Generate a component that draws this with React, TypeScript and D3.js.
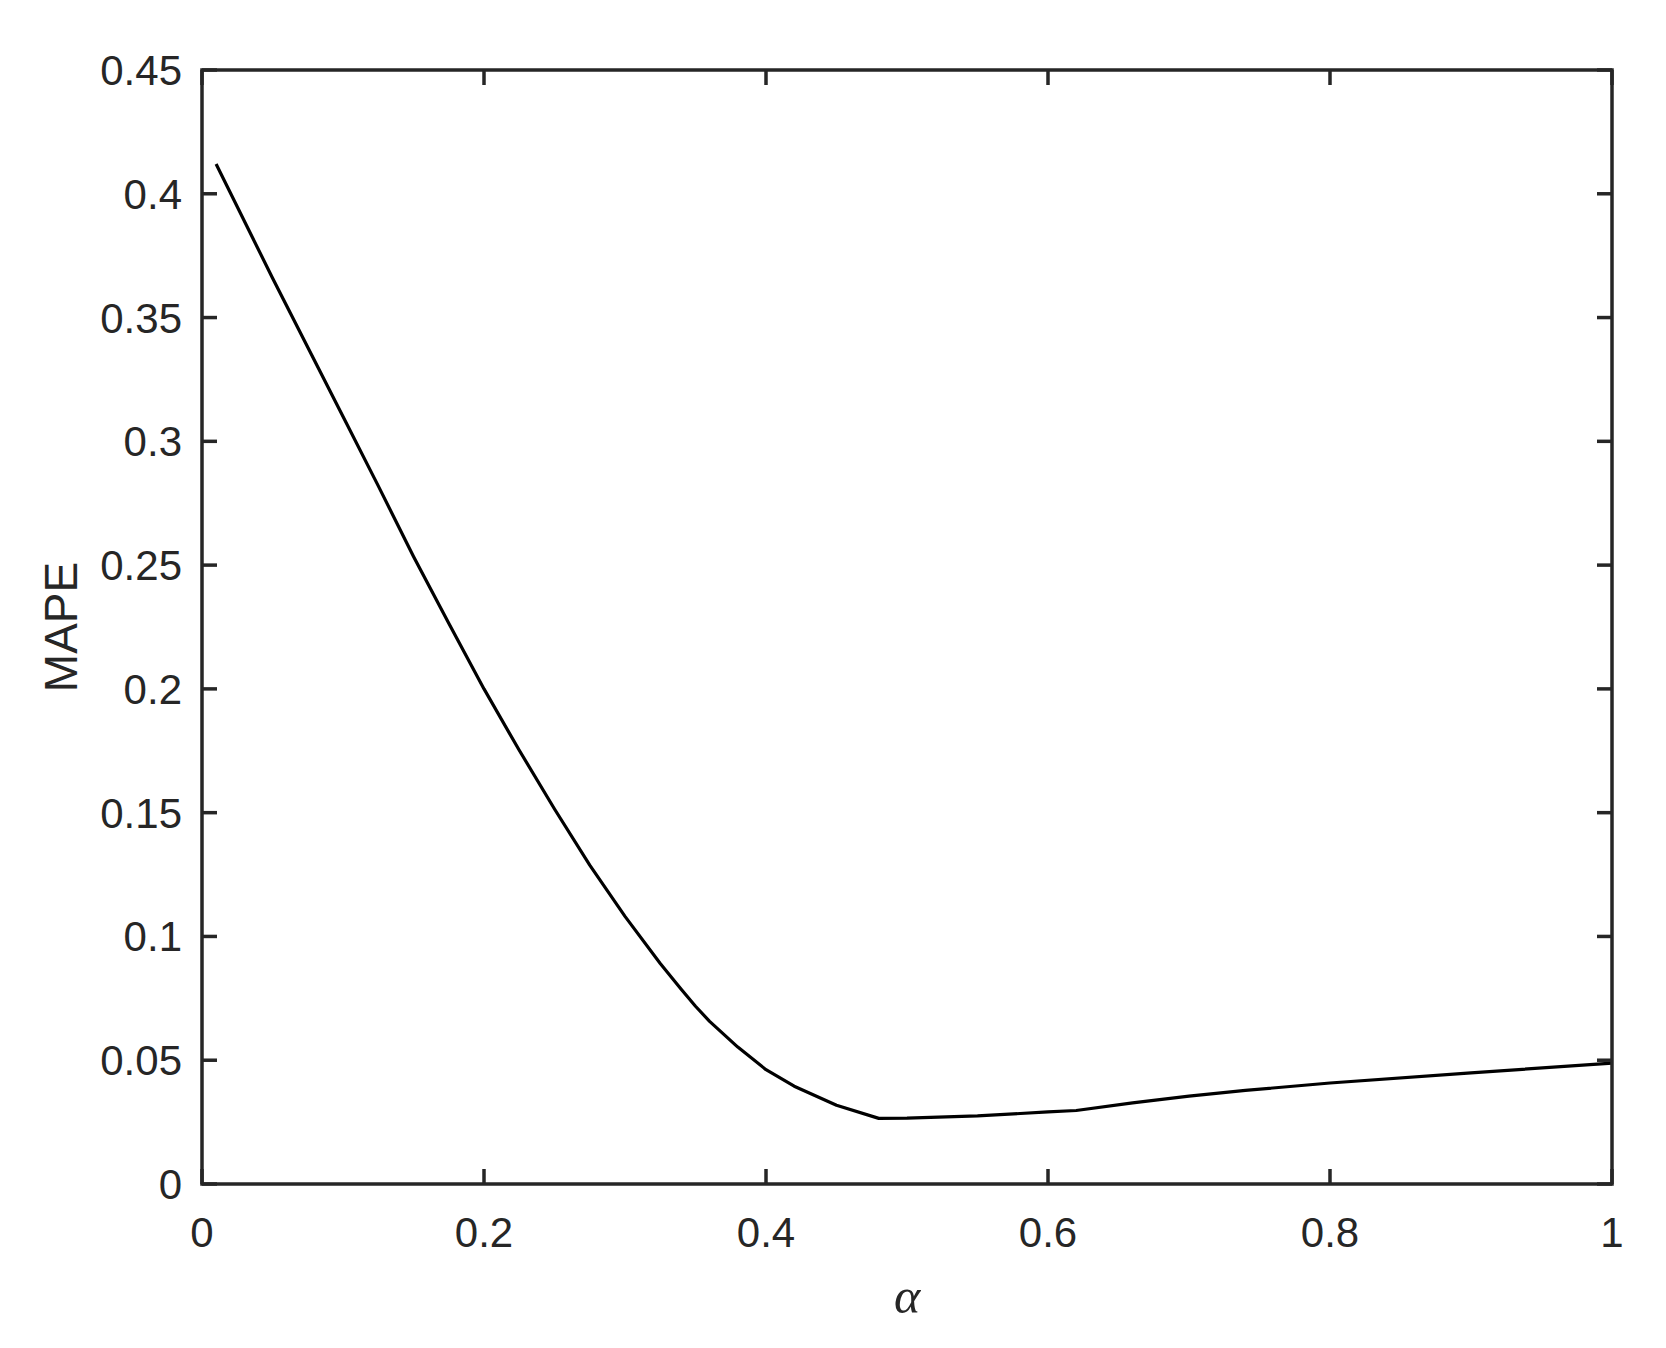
import React from "react";
import { scaleLinear, line } from "d3";

// alpha values and MAPE
const alphaValues = [0.01, 0.05, 0.1, 0.125, 0.15, 0.175, 0.2, 0.225, 0.25, 0.275, 0.3, 0.325, 0.34, 0.35, 0.36, 0.38, 0.4, 0.42, 0.45, 0.48, 0.5, 0.55, 0.6, 0.62, 0.66, 0.7, 0.74, 0.8, 0.9, 1.0];
const mapeValues = [0.412, 0.366, 0.31, 0.282, 0.2535, 0.2265, 0.2, 0.1752, 0.1515, 0.1288, 0.1081, 0.0891, 0.0786, 0.0718, 0.0657, 0.0553, 0.0462, 0.0395, 0.0318, 0.0265, 0.0266, 0.0275, 0.0291, 0.0297, 0.0328, 0.0355, 0.0378, 0.0408, 0.0449, 0.0488];
const xTickValues = [0, 0.2, 0.4, 0.6, 0.8, 1];
const xTickLabels = ["0", "0.2", "0.4", "0.6", "0.8", "1"];
const yTickValues = [0, 0.05, 0.1, 0.15, 0.2, 0.25, 0.3, 0.35, 0.4, 0.45];
const yTickLabels = ["0", "0.05", "0.1", "0.15", "0.2", "0.25", "0.3", "0.35", "0.4", "0.45"];

const left = 202;
const right = 1612;
const top = 70;
const bottom = 1184;
const axisColor = "#262626";
const tickLen = 15;
const font = "Arial, 'Liberation Sans', Helvetica, sans-serif";

export default function App() {
  const x = scaleLinear().domain([0, 1]).range([left, right]);
  const y = scaleLinear().domain([0, 0.45]).range([bottom, top]);
  const pts: [number, number][] = alphaValues.map((a, i) => [x(a), y(mapeValues[i])]);
  const path = line()(pts) || "";

  return (
    <svg
      width={1666}
      height={1348}
      style={{ position: "absolute", left: 0, top: 0, background: "white" }}
    >
      <rect x={0} y={0} width={1666} height={1348} fill="white" />
      <path d={path} fill="none" stroke="#000" strokeWidth={3.2} strokeLinejoin="round" />

      {/* box */}
      <rect
        x={left}
        y={top}
        width={right - left}
        height={bottom - top}
        fill="none"
        stroke={axisColor}
        strokeWidth={3.5}
      />

      {xTickValues.map((v, i) => (
        <g key={"x" + i}>
          <line x1={x(v)} x2={x(v)} y1={bottom} y2={bottom - tickLen} stroke={axisColor} strokeWidth={3.5} />
          <line x1={x(v)} x2={x(v)} y1={top} y2={top + tickLen} stroke={axisColor} strokeWidth={3.5} />
          <text
            x={x(v)}
            y={1247}
            textAnchor="middle"
            fontFamily={font}
            fontSize={42}
            fill={axisColor}
          >
            {xTickLabels[i]}
          </text>
        </g>
      ))}

      {yTickValues.map((v, i) => (
        <g key={"y" + i}>
          <line x1={left} x2={left + tickLen} y1={y(v)} y2={y(v)} stroke={axisColor} strokeWidth={3.5} />
          <line x1={right} x2={right - tickLen} y1={y(v)} y2={y(v)} stroke={axisColor} strokeWidth={3.5} />
          <text
            x={182}
            y={y(v) + 15}
            textAnchor="end"
            fontFamily={font}
            fontSize={42}
            fill={axisColor}
          >
            {yTickLabels[i]}
          </text>
        </g>
      ))}

      <text
        x={(left + right) / 2}
        y={1313}
        textAnchor="middle"
        fontFamily="'Times New Roman', 'Liberation Serif', serif"
        fontStyle="italic"
        fontSize={50}
        fill={axisColor}
      >
        α
      </text>
      <text
        transform={`translate(77, ${(top + bottom) / 2}) rotate(-90)`}
        textAnchor="middle"
        fontFamily={font}
        fontSize={46}
        fill={axisColor}
      >
        MAPE
      </text>
    </svg>
  );
}
